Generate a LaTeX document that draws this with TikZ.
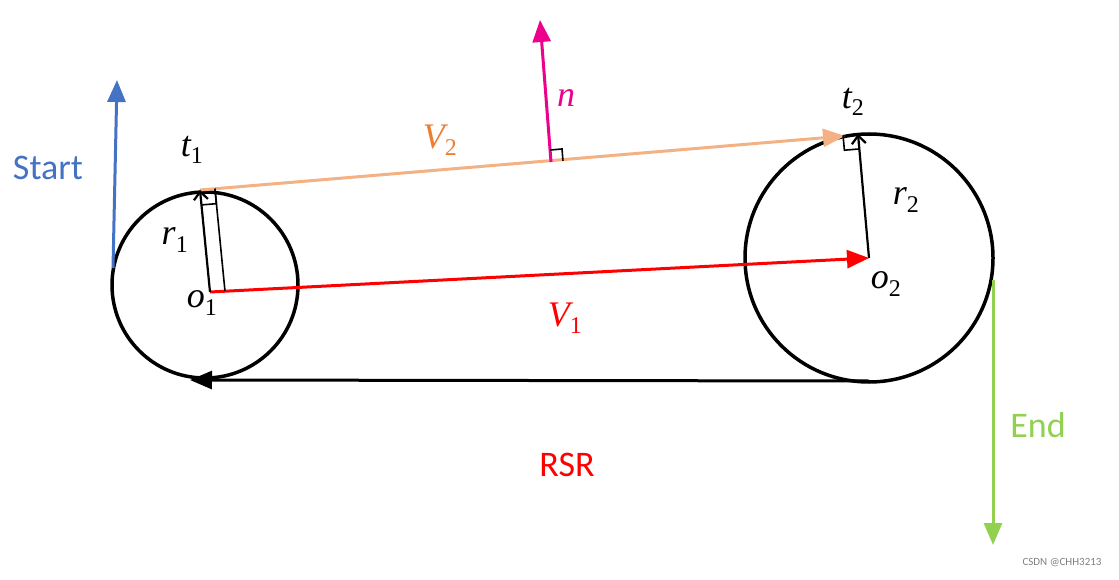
\documentclass[tikz,border=0pt]{standalone}
\usepackage{fontspec}
\setmainfont{Liberation Serif}
\newfontfamily\sansf{Carlito}
\usetikzlibrary{arrows.meta,calc}
\definecolor{cblue}{HTML}{4472C4}
\definecolor{cpeach}{HTML}{F4B183}
\definecolor{corange}{HTML}{ED7D31}
\definecolor{cgreen}{HTML}{92D050}
\begin{document}
\begin{tikzpicture}[x=1pt,y=-1pt,
  vec/.style={line width=3pt,-{Triangle[length=22pt,width=18pt]}},
  rad/.style={line width=2.2pt,-{Straight Barb[length=8pt,width=14pt]}},
  lab/.style={font=\fontsize{36}{36}\selectfont\itshape},
  sub/.style={font=\fontsize{24}{24}\selectfont},
  sans/.style={font=\sansf\fontsize{36}{36}\selectfont},
  ra/.style={line width=1.6pt}]
\useasboundingbox (0,0) rectangle (1119,580);
\node[circle,draw,line width=3.5pt,minimum size=186pt,inner sep=0] (c1) at (205,285) {};
\node[circle,draw,line width=3.5pt,minimum size=248pt,inner sep=0] (c2) at (869,258) {};
\coordinate (o1) at (210,292);
\coordinate (o2) at (869,258);
\coordinate (t1) at (200,190);
\coordinate (t2) at (858,134);
\coordinate (b2) at (869,381);
\coordinate (b1) at (190,380);
\coordinate (s0) at (113,268);
\coordinate (s1) at (117,80);
\coordinate (e0) at (993,280);
\coordinate (e1) at (993,545);
\coordinate (n0) at (551,162);
\coordinate (n1) at (540,20);
\coordinate (v2e) at (845,136);
% vectors
\draw[vec,red] (o1) -- (o2);
\draw[vec,cpeach] (t1) -- (v2e);
\draw[vec,black] (b2) -- (b1);
\draw[vec,cblue] (s0) -- (s1);
\draw[vec,cgreen] (e0) -- (e1);
\draw[vec,magenta] (n0) -- (n1);
\draw[rad] (o1) -- (t1);
\draw[rad] (o2) -- (t2);
% right angle marks
\draw[ra] ($(t1)!15pt!(v2e)$) coordinate (a) -- ++($(o1)-(t1)$ ) ;
\draw[ra] let \p1=($(t1)!15pt!(v2e)$), \p2=($(t1)!15pt!(o1)$) in
  (\p2) -- ($(\p1)+(\p2)-(t1)$) -- (\p1);
\draw[ra] let \p1=($(t2)!15pt!(t1)$), \p2=($(t2)!15pt!(o2)$) in
  (\p2) -- ($(\p1)+(\p2)-(t2)$) -- (\p1);
\draw[ra] let \p1=($(n0)!12pt!(v2e)$), \p2=($(n0)!12pt!(n1)$) in
  (\p2) -- ($(\p1)+(\p2)-(n0)$) -- (\p1);
% labels
\node[lab] (lt1) at (192,150) {t\textsubscript{\upshape\fontsize{24}{24}\selectfont 1}};
\node[lab] (lr1) at (175,240) {r\textsubscript{\upshape\fontsize{24}{24}\selectfont 1}};
\node[lab] (lo1) at (202,303) {o\textsubscript{\upshape\fontsize{24}{24}\selectfont 1}};
\node[lab,red] (lv1) at (565,318) {V\textsubscript{\upshape\fontsize{24}{24}\selectfont 1}};
\node[lab,corange] (lv2) at (440,140) {V\textsubscript{\upshape\fontsize{24}{24}\selectfont 2}};
\node[lab,magenta] (ln) at (566,98) {n};
\node[lab] (lt2) at (853,102) {t\textsubscript{\upshape\fontsize{24}{24}\selectfont 2}};
\node[lab] (lr2) at (906,200) {r\textsubscript{\upshape\fontsize{24}{24}\selectfont 2}};
\node[lab] (lo2) at (886,284) {o\textsubscript{\upshape\fontsize{24}{24}\selectfont 2}};
\node[sans,cblue] (ls) at (48,168) {Start};
\node[sans,cgreen] (le) at (1038,425) {End};
\node[sans,red] (lrsr) at (567,465) {RSR};
\node[font=\sansf\fontsize{11}{11}\selectfont,gray] (wm) at (1062,563) {CSDN @CHH3213};
\end{tikzpicture}
\end{document}
